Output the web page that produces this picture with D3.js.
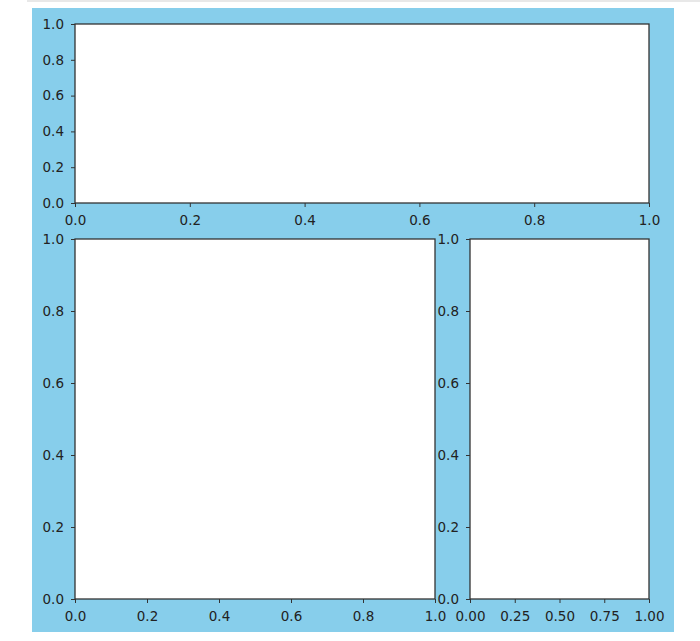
<!DOCTYPE html>
<html>
<head>
<meta charset="utf-8">
<script src="https://cdn.jsdelivr.net/npm/d3@7"></script>
<style>
  body { margin: 0; background: #fff; }
  .axis text { font-family: "DejaVu Sans", sans-serif; font-size: 13.5px; fill: #222; }
  .axis path, .axis line { stroke: #333; }
</style>
</head>
<body>
<script>
// tick values
const unitTicks = [0, 0.2, 0.4, 0.6, 0.8, 1.0];
const quarterTicks = [0, 0.25, 0.5, 0.75, 1.0];
const domain = [0, 1];

const panels = [
  { name: 'top', x0: 75, x1: 649, y0: 24, y1: 203, xTicks: unitTicks, xFmt: '.1f', yTicks: unitTicks },
  { name: 'bottomLeft', x0: 75, x1: 435, y0: 239, y1: 599, xTicks: unitTicks, xFmt: '.1f', yTicks: unitTicks },
  { name: 'bottomRight', x0: 470, x1: 649, y0: 239, y1: 599, xTicks: quarterTicks, xFmt: '.2f', yTicks: unitTicks }
];

const svg = d3.select('body').append('svg')
    .attr('width', 700)
    .attr('height', 641);

// faint cell border at the very top
svg.append('rect')
  .attr('x', 27).attr('y', 0)
  .attr('width', 673).attr('height', 2)
  .attr('fill', '#e8e8e8');

// figure background
svg.append('rect')
  .attr('x', 32).attr('y', 8)
  .attr('width', 642).attr('height', 624)
  .attr('fill', '#87ceeb');

panels.forEach(p => {
  const x = d3.scaleLinear().domain(domain).range([p.x0, p.x1]);
  const y = d3.scaleLinear().domain(domain).range([p.y1, p.y0]);

  svg.append('rect')
    .attr('x', p.x0).attr('y', p.y0)
    .attr('width', p.x1 - p.x0).attr('height', p.y1 - p.y0)
    .attr('fill', '#fff')
    .attr('stroke', '#333')
    .attr('stroke-width', 1.3);

  svg.append('g')
    .attr('class', 'axis')
    .attr('transform', `translate(0, ${p.y1})`)
    .call(d3.axisBottom(x).tickValues(p.xTicks).tickFormat(d3.format(p.xFmt)).tickSize(4).tickPadding(8))
    .call(g => g.select('.domain').remove());

  svg.append('g')
    .attr('class', 'axis')
    .attr('transform', `translate(${p.x0}, 0)`)
    .call(d3.axisLeft(y).tickValues(p.yTicks).tickFormat(d3.format('.1f')).tickSize(4).tickPadding(7))
    .call(g => g.select('.domain').remove());
});
</script>
</body>
</html>
